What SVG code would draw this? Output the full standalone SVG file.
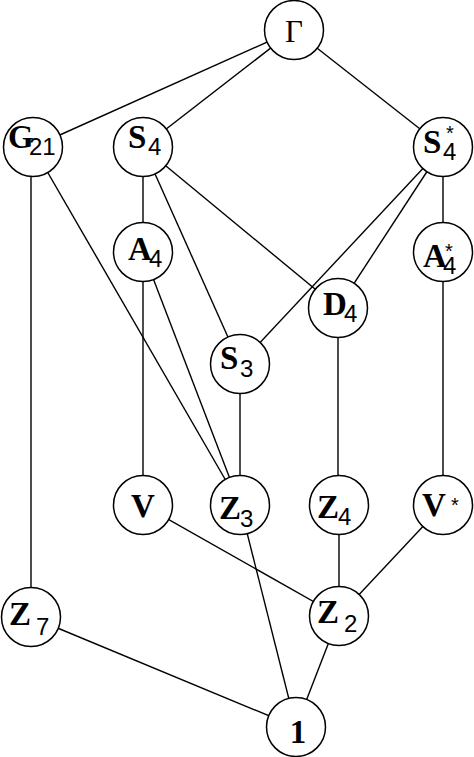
<svg xmlns="http://www.w3.org/2000/svg" width="474" height="757" viewBox="0 0 474 757">
<style>
.bg{fill:#fff}
.e line{stroke:#000;stroke-width:1.4;fill:none}
circle{fill:#fff;stroke:#000;stroke-width:1.5}
text{fill:#000}
.m{font-family:"Liberation Serif","Times New Roman",serif;font-weight:bold;font-size:33px}
.g{font-family:"Liberation Serif","Times New Roman",serif;font-size:31px}
.s{font-family:"Liberation Sans",Arial,sans-serif;font-weight:normal;font-size:24px}
.a{font-family:"Liberation Sans",Arial,sans-serif;font-weight:normal;font-size:20px}
</style>
<rect class="bg" width="474" height="757"/>
<g id="edges" class="e">
<line x1="294" y1="30" x2="33" y2="147"/>
<line x1="294" y1="30" x2="143" y2="147"/>
<line x1="294" y1="30" x2="443" y2="147"/>
<line x1="31" y1="147" x2="31" y2="617"/>
<line x1="33" y1="147" x2="240" y2="505"/>
<line x1="143" y1="147" x2="143" y2="252"/>
<line x1="143" y1="147" x2="240" y2="364"/>
<line x1="143" y1="147" x2="338" y2="308"/>
<line x1="443" y1="147" x2="443" y2="252"/>
<line x1="443" y1="147" x2="240" y2="364"/>
<line x1="443" y1="147" x2="338" y2="308"/>
<line x1="143" y1="252" x2="143" y2="505"/>
<line x1="143" y1="252" x2="240" y2="505"/>
<line x1="240" y1="364" x2="240" y2="505"/>
<line x1="338" y1="308" x2="338" y2="505"/>
<line x1="443" y1="252" x2="443" y2="505"/>
<line x1="143" y1="505" x2="339" y2="616"/>
<line x1="240" y1="505" x2="296" y2="727"/>
<line x1="339" y1="505" x2="339" y2="616"/>
<line x1="443" y1="505" x2="339" y2="616"/>
<line x1="31" y1="617" x2="296" y2="727"/>
<line x1="339" y1="616" x2="296" y2="727"/>
</g>
<g id="Gamma"><circle cx="294" cy="30" r="29.5"/><text class="g" x="294" y="42" text-anchor="middle">Γ</text></g>
<g id="G21"><circle cx="33" cy="147" r="29.5"/><text class="m" x="8" y="148">G<tspan class="s" x="29" y="155">21</tspan></text></g>
<g id="S4"><circle cx="143" cy="147" r="29.5"/><text class="m" x="128" y="148">S<tspan class="s" x="148" y="155">4</tspan></text></g>
<g id="S4star"><circle cx="443" cy="147" r="29.5"/><text class="m" x="423" y="153">S<tspan class="s" x="443" y="160">4</tspan><tspan class="a" x="446" y="140">*</tspan></text></g>
<g id="A4"><circle cx="143" cy="252" r="29.5"/><text class="m" x="128" y="260">A<tspan class="s" x="149" y="267">4</tspan></text></g>
<g id="A4star"><circle cx="443" cy="252" r="29.5"/><text class="m" x="423" y="267">A<tspan class="s" x="443" y="274">4</tspan><tspan class="a" x="445" y="258">*</tspan></text></g>
<g id="D4"><circle cx="338" cy="308" r="29.5"/><text class="m" x="323" y="315">D<tspan class="s" x="344" y="322">4</tspan></text></g>
<g id="S3"><circle cx="240" cy="364" r="29.5"/><text class="m" x="220" y="369">S<tspan class="s" x="240" y="377">3</tspan></text></g>
<g id="V"><circle cx="143" cy="505" r="29.5"/><text class="m" x="131" y="517">V</text></g>
<g id="Z3"><circle cx="240" cy="505" r="29.5"/><text class="m" x="219" y="519">Z<tspan class="s" x="240" y="527">3</tspan></text></g>
<g id="Z4"><circle cx="339" cy="505" r="29.5"/><text class="m" x="317" y="518">Z<tspan class="s" x="338" y="525">4</tspan></text></g>
<g id="Vstar"><circle cx="443" cy="505" r="29.5"/><text class="m" x="422" y="516">V<tspan class="a" x="451" y="512">*</tspan></text></g>
<g id="Z7"><circle cx="31" cy="617" r="29.5"/><text class="m" x="9" y="625">Z<tspan class="s" x="36" y="635">7</tspan></text></g>
<g id="Z2"><circle cx="339" cy="616" r="29.5"/><text class="m" x="317" y="623">Z<tspan class="s" x="344" y="632">2</tspan></text></g>
<g id="One"><circle cx="296" cy="727" r="29.5"/><text class="m" x="298" y="743" text-anchor="middle">1</text></g>
</svg>
